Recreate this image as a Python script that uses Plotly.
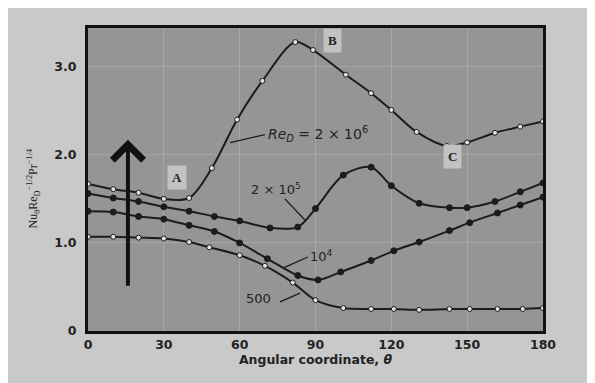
import plotly.graph_objects as go

# ---- data ----
theta_2e6 = [0, 10, 20, 30, 40, 49, 59, 69, 82, 89, 102, 112, 120, 130, 142, 150, 161, 171, 180]
nu_2e6 = [1.67, 1.61, 1.57, 1.50, 1.51, 1.85, 2.40, 2.84, 3.28, 3.19, 2.91, 2.70, 2.51, 2.26, 2.10, 2.14, 2.25, 2.32, 2.38]

theta_2e5 = [0, 10, 20, 30, 40, 50, 60, 72, 83, 90, 101, 112, 120, 131, 143, 150, 161, 171, 180]
nu_2e5 = [1.56, 1.51, 1.47, 1.41, 1.36, 1.30, 1.25, 1.17, 1.18, 1.39, 1.77, 1.86, 1.65, 1.45, 1.40, 1.40, 1.47, 1.58, 1.68]

theta_1e4 = [0, 10, 20, 30, 40, 50, 60, 71, 83, 91, 100, 112, 121, 131, 143, 151, 162, 171, 180]
nu_1e4 = [1.36, 1.35, 1.30, 1.27, 1.20, 1.13, 1.00, 0.82, 0.63, 0.58, 0.67, 0.80, 0.91, 1.01, 1.14, 1.23, 1.34, 1.43, 1.52]

theta_500 = [0, 10, 20, 30, 40, 48, 60, 70, 81, 90, 101, 112, 121, 131, 143, 151, 162, 172, 180]
nu_500 = [1.07, 1.07, 1.06, 1.05, 1.01, 0.95, 0.86, 0.74, 0.55, 0.35, 0.26, 0.25, 0.25, 0.24, 0.25, 0.25, 0.25, 0.25, 0.26]

x_ticks = [0, 30, 60, 90, 120, 150, 180]
y_ticks = [0, 1, 2, 3]
y_tick_labels = ["0", "1.0", "2.0", "3.0"]

LINE = "#1c1c1c"
PLOT_BG = "#959595"
PAPER_BG = "#c9c9c9"
TXT = "#222222"
SANS = "DejaVu Sans"

fig = go.Figure()

def add_curve(x, y, open_marker):
    fig.add_trace(go.Scatter(
        x=x, y=y, mode="lines+markers",
        line=dict(color=LINE, width=2, shape="spline", smoothing=0.9),
        marker=dict(
            size=5 if open_marker else 6,
            color="#e2e2e2" if open_marker else LINE,
            line=dict(color=LINE, width=1),
        ),
        showlegend=False, hoverinfo="skip",
    ))

add_curve(theta_500, nu_500, True)
add_curve(theta_1e4, nu_1e4, False)
add_curve(theta_2e5, nu_2e5, False)
add_curve(theta_2e6, nu_2e6, True)

shapes = []
# leader lines
def leader(x0, y0, x1, y1):
    shapes.append(dict(type="line", xref="x", yref="y", x0=x0, y0=y0, x1=x1, y1=y1,
                       line=dict(color=LINE, width=1.3)))

leader(70.0, 2.23, 56.2, 2.14)
leader(77.9, 1.50, 85.8, 1.26)
leader(87.0, 0.84, 77.5, 0.72)
leader(75.9, 0.33, 83.9, 0.43)

ann = []
# curve labels
ann.append(dict(x=70.6, y=2.24, xref="x", yref="y", xanchor="left", showarrow=False,
                text="<i>Re</i><sub><i>D</i></sub> = 2 × 10<sup>6</sup>",
                font=dict(family=SANS, size=14, color=TXT)))
ann.append(dict(x=74.5, y=1.61, xref="x", yref="y", showarrow=False,
                text="2 × 10<sup>5</sup>",
                font=dict(family=SANS, size=13, color=TXT)))
ann.append(dict(x=87.0, y=0.85, xref="x", yref="y", xanchor="left", showarrow=False,
                text="10<sup>4</sup>",
                font=dict(family=SANS, size=13, color=TXT)))
ann.append(dict(x=67.6, y=0.37, xref="x", yref="y", showarrow=False,
                text="500",
                font=dict(family=SANS, size=13, color=TXT)))

# point labels A, B, C
for lab, lx, ly in [("A", 35.2, 1.74), ("B", 96.9, 3.30), ("C", 144.0, 1.98)]:
    ann.append(dict(x=lx, y=ly, xref="x", yref="y", showarrow=False, text="<b>%s</b>" % lab,
                    bgcolor="#c2c2c2", borderpad=4,
                    font=dict(family="Liberation Serif", size=13, color=TXT)))

# big arrow
ann.append(dict(x=15.8, y=2.17, ax=15.8, ay=0.49, xref="x", yref="y", axref="x", ayref="y",
                text=" ", showarrow=True, arrowhead=4, arrowwidth=4, arrowsize=1.5,
                arrowcolor="#111111", standoff=0, startstandoff=0,
                font=dict(size=1)))

# y axis title
ann.append(dict(x=-0.119, y=0.47, xref="paper", yref="paper", xanchor="center", yanchor="middle",
                showarrow=False, textangle=-90,
                text="Nu<sub>θ</sub>Re<sub>D</sub><sup>−1/2</sup>Pr<sup>−1/4</sup>",
                font=dict(family="Liberation Serif", size=12, color=TXT)))

fig.update_layout(
    width=595, height=383,
    margin=dict(l=80, r=60, t=20, b=60),
    paper_bgcolor=PAPER_BG, plot_bgcolor=PLOT_BG,
    annotations=ann, shapes=shapes,
    xaxis=dict(
        range=[0, 180], tickvals=x_ticks, ticktext=[str(v) for v in x_ticks],
        showgrid=True, gridcolor="#a6a6a6", gridwidth=1, zeroline=False,
        showline=True, linecolor="#111111", linewidth=3, mirror=True,
        ticks="", ticklabelstandoff=0,
        tickfont=dict(family=SANS, size=12.5, color=TXT, weight="bold"),
        title=dict(text="<b>Angular coordinate, <i>θ</i></b>", standoff=0,
                   font=dict(family=SANS, size=12.5, color=TXT)),
    ),
    yaxis=dict(
        range=[0, 3.44], tickvals=y_ticks, ticktext=y_tick_labels,
        showgrid=True, gridcolor="#a6a6a6", gridwidth=1, zeroline=False,
        showline=True, linecolor="#111111", linewidth=3, mirror=True,
        ticks="", ticklabelstandoff=6,
        tickfont=dict(family=SANS, size=12.5, color=TXT, weight="bold"),
    ),
)

fig.write_html("out.html")
